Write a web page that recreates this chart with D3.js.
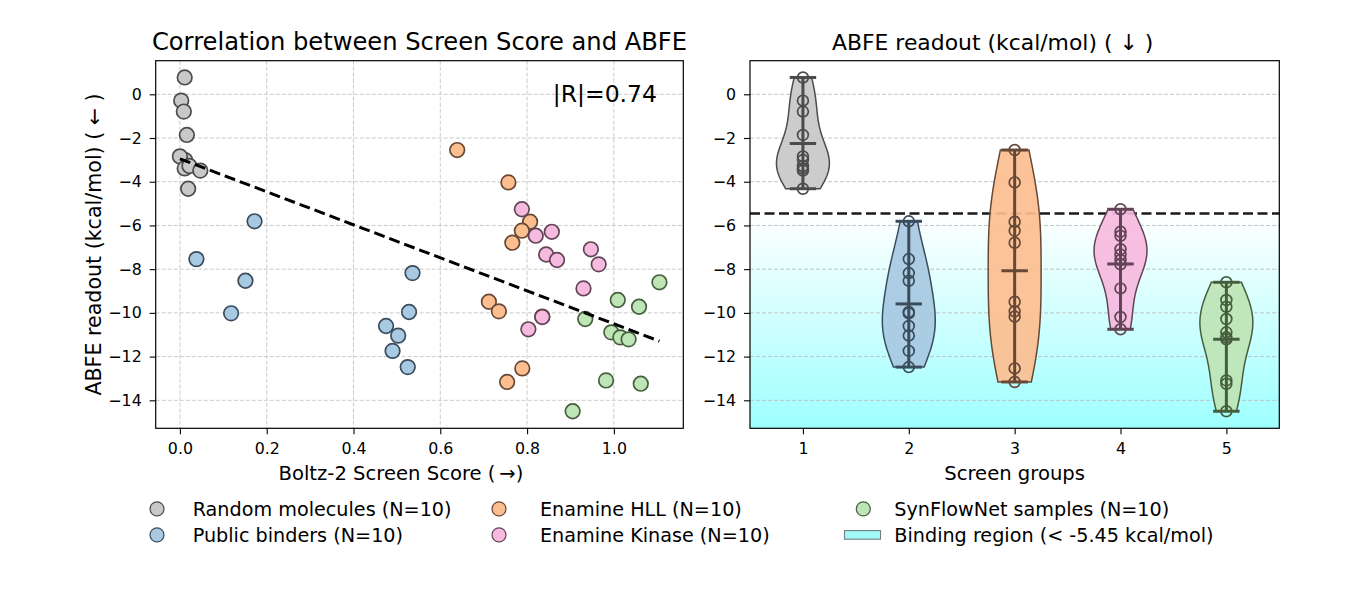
<!DOCTYPE html>
<html>
<head>
<meta charset="utf-8">
<script src="https://cdn.jsdelivr.net/npm/d3@7"></script>
<style>
  body { margin: 0; background: #fff; }
  svg { font-family: "DejaVu Sans", sans-serif; display: block; }
</style>
</head>
<body>
<svg id="chart" width="1363" height="600"></svg>
<script>
// data
var groupNames = ["Random molecules", "Public binders", "Enamine HLL", "Enamine Kinase", "SynFlowNet samples"];
var groupFill = ["#c8c8c8", "#a7c9e2", "#fdbe8f", "#f6badf", "#bee5b5"];
var groupEdge = ["#4c4c4c", "#3b4c5c", "#664836", "#614455", "#465e3e"];

var scoreRandom = [0.012, 0.011, 0.003, 0.009, 0.016, 0.000, 0.011, 0.022, 0.047, 0.019];
var abfeRandom  = [-3.01, 0.77, -0.29, -0.79, -1.86, -2.84, -3.39, -3.28, -3.49, -4.32];
var scorePublic = [0.172, 0.038, 0.151, 0.118, 0.536, 0.528, 0.475, 0.503, 0.490, 0.525];
var abfePublic  = [-5.81, -7.54, -8.53, -10.02, -8.18, -9.96, -10.60, -11.04, -11.74, -12.48];
var scoreHLL    = [0.639, 0.757, 0.807, 0.788, 0.766, 0.712, 0.735, 0.835, 0.789, 0.754];
var abfeHLL     = [-2.55, -4.03, -5.83, -6.24, -6.79, -9.49, -9.93, -10.17, -12.54, -13.16];
var scoreKinase = [0.788, 0.820, 0.857, 0.947, 0.844, 0.869, 0.965, 0.930, 0.835, 0.803];
var abfeKinase  = [-5.26, -6.47, -6.29, -7.09, -7.33, -7.58, -7.78, -8.88, -10.19, -10.75];
var scoreSyn    = [1.105, 1.009, 1.058, 0.934, 0.994, 1.015, 1.034, 0.982, 1.062, 0.905];
var abfeSyn     = [-8.60, -9.41, -9.72, -10.28, -10.89, -11.12, -11.21, -13.09, -13.24, -14.50];

// fitted trend line as drawn in the figure
var fitIntercept = -2.95, fitSlope = -7.55;

var bindingCut = -5.45;
var rLabel = "|R|=0.74";
var xTicksLeft = [0, 0.2, 0.4, 0.6, 0.8, 1.0];
var yTicks = [-14, -12, -10, -8, -6, -4, -2, 0];
var groupTicks = [1, 2, 3, 4, 5];

var scores = [scoreRandom, scorePublic, scoreHLL, scoreKinase, scoreSyn];
var abfes = [abfeRandom, abfePublic, abfeHLL, abfeKinase, abfeSyn];

var svg = d3.select("#chart");

// layout
var yTop = 60.7, yBot = 428.3;
var L = {x0: 155.7, x1: 683.3};
var R = {x0: 750, x1: 1279.3};

var y = d3.scaleLinear().domain([-15.28, 1.537]).range([yBot, yTop]);
var xL = d3.scaleLinear().domain([-0.0558, 1.160]).range([L.x0, L.x1]);
var xR = d3.scaleLinear().domain([0.5, 5.5]).range([R.x0, R.x1]);

var tickFont = 15.8;

//---------- LEFT PANEL ----------
var gl = svg.append("g");

// grid
gl.selectAll(".gx").data(xTicksLeft).enter().append("line")
  .attr("x1", function(d){ return xL(d); }).attr("x2", function(d){ return xL(d); })
  .attr("y1", yTop).attr("y2", yBot)
  .attr("stroke", "#c4c4c4").attr("stroke-width", 0.9).attr("stroke-dasharray", "4,2");
gl.selectAll(".gy").data(yTicks).enter().append("line")
  .attr("x1", L.x0).attr("x2", L.x1)
  .attr("y1", function(d){ return y(d); }).attr("y2", function(d){ return y(d); })
  .attr("stroke", "#c4c4c4").attr("stroke-width", 0.9).attr("stroke-dasharray", "4,2");

// points
groupNames.forEach(function(name, gi){
  var pts = scores[gi].map(function(s, i){ return {x: s, y: abfes[gi][i]}; });
  gl.append("g").selectAll("circle").data(pts).enter().append("circle")
    .attr("cx", function(d){ return xL(d.x); })
    .attr("cy", function(d){ return y(d.y); })
    .attr("r", 7.3)
    .attr("fill", groupFill[gi])
    .attr("stroke", groupEdge[gi])
    .attr("stroke-width", 1.7);
});

// trend line across the score range
var allScores = d3.merge(scores);
var xExt = d3.extent(allScores);
gl.append("line")
  .attr("x1", xL(xExt[0])).attr("y1", y(fitIntercept + fitSlope * xExt[0]))
  .attr("x2", xL(xExt[1])).attr("y2", y(fitIntercept + fitSlope * xExt[1]))
  .attr("stroke", "#000").attr("stroke-width", 3).attr("stroke-dasharray", "11,5");

gl.append("text").attr("x", 657).attr("y", 101.5).attr("text-anchor", "end")
  .attr("font-size", 23.5).text(rLabel);

// axes
gl.append("g").attr("transform", "translate(0," + yBot + ")")
  .call(d3.axisBottom(xL).tickValues(xTicksLeft).tickFormat(d3.format(".1f")).tickSize(6).tickPadding(8));
gl.append("g").attr("transform", "translate(" + L.x0 + ",0)")
  .call(d3.axisLeft(y).tickValues(yTicks).tickSize(6).tickPadding(8));
gl.append("rect").attr("x", L.x0).attr("y", yTop).attr("width", L.x1 - L.x0).attr("height", yBot - yTop)
  .attr("fill", "none").attr("stroke", "#000").attr("stroke-width", 1.2);

gl.append("text").attr("x", 419.5).attr("y", 49.5).attr("text-anchor", "middle")
  .attr("font-size", 24.2).text("Correlation between Screen Score and ABFE");
gl.append("text").attr("x", 278.5).attr("y", 480).attr("font-size", 19.6)
  .text("Boltz-2 Screen Score (\u2009\u2192)");
gl.append("text").attr("transform", "translate(101,244.5) rotate(-90)").attr("text-anchor", "middle")
  .attr("font-size", 20.6).text("ABFE readout (kcal/mol) ( \u2190 )");

//---------- RIGHT PANEL ----------
var gr = svg.append("g");

var defs = svg.append("defs");
var grad = defs.append("linearGradient").attr("id", "bindGrad")
  .attr("x1", 0).attr("y1", 0).attr("x2", 0).attr("y2", 1);
grad.append("stop").attr("offset", "0%").attr("stop-color", "#00ffff").attr("stop-opacity", 0);
grad.append("stop").attr("offset", "100%").attr("stop-color", "#00ffff").attr("stop-opacity", 0.38);

gr.append("rect").attr("x", R.x0).attr("y", y(bindingCut))
  .attr("width", R.x1 - R.x0).attr("height", yBot - y(bindingCut))
  .attr("fill", "url(#bindGrad)");

gr.selectAll(".gy").data(yTicks).enter().append("line")
  .attr("x1", R.x0).attr("x2", R.x1)
  .attr("y1", function(d){ return y(d); }).attr("y2", function(d){ return y(d); })
  .attr("stroke", "#bdbdbd").attr("stroke-width", 0.9).attr("stroke-dasharray", "4,2");

gr.append("line").attr("x1", R.x0).attr("x2", R.x1)
  .attr("y1", y(bindingCut)).attr("y2", y(bindingCut))
  .attr("stroke", "#1a1a1a").attr("stroke-width", 2.6).attr("stroke-dasharray", "10,4.5");

// gaussian kde, scott bandwidth
function kde(vals, pts) {
  var n = vals.length, v = d3.variance(vals);
  var bw2 = v * Math.pow(n, -2 / 5);
  var norm = n * Math.sqrt(2 * Math.PI * bw2);
  return pts.map(function(p){
    return d3.sum(vals, function(x){ return Math.exp(-(p - x) * (p - x) / (2 * bw2)); }) / norm;
  });
}

var unit = xR(1) - xR(0);
groupNames.forEach(function(name, gi){
  var vals = abfes[gi], pos = groupTicks[gi];
  var lo = d3.min(vals), hi = d3.max(vals);
  var coords = d3.range(100).map(function(i){ return lo + i * (hi - lo) / 99; });
  var dens = kde(vals, coords), dmax = d3.max(dens);
  var body = coords.map(function(c, i){ return {c: c, w: 0.25 * unit * dens[i] / dmax}; });
  var cx = xR(pos);
  var area = d3.area()
    .y(function(d){ return y(d.c); })
    .x0(function(d){ return cx - d.w; })
    .x1(function(d){ return cx + d.w; });
  var g = gr.append("g");
  g.append("path").attr("d", area(body))
    .attr("fill", groupFill[gi]).attr("fill-opacity", 0.92)
    .attr("stroke", groupEdge[gi]).attr("stroke-width", 1.5);
  var half = 0.125 * unit;
  g.append("line").attr("x1", cx).attr("x2", cx).attr("y1", y(lo)).attr("y2", y(hi))
    .attr("stroke", groupEdge[gi]).attr("stroke-width", 3);
  [lo, hi, d3.mean(vals)].forEach(function(v){
    g.append("line").attr("x1", cx - half).attr("x2", cx + half).attr("y1", y(v)).attr("y2", y(v))
      .attr("stroke", groupEdge[gi]).attr("stroke-width", 3);
  });
  g.selectAll("circle").data(vals).enter().append("circle")
    .attr("cx", cx).attr("cy", function(d){ return y(d); }).attr("r", 5.4)
    .attr("fill", "none").attr("stroke", groupEdge[gi]).attr("stroke-width", 1.7);
});

gr.append("g").attr("transform", "translate(0," + yBot + ")")
  .call(d3.axisBottom(xR).tickValues(groupTicks).tickFormat(d3.format("d")).tickSize(6).tickPadding(8));
gr.append("g").attr("transform", "translate(" + R.x0 + ",0)")
  .call(d3.axisLeft(y).tickValues(yTicks).tickSize(6).tickPadding(8));
gr.append("rect").attr("x", R.x0).attr("y", yTop).attr("width", R.x1 - R.x0).attr("height", yBot - yTop)
  .attr("fill", "none").attr("stroke", "#000").attr("stroke-width", 1.2);

gr.append("text").attr("x", 832).attr("y", 50).attr("font-size", 21.9)
  .text("ABFE readout (kcal/mol) ( \u2193 )");
gr.append("text").attr("x", (R.x0 + R.x1) / 2).attr("y", 480).attr("text-anchor", "middle")
  .attr("font-size", 19.6).text("Screen groups");

// axis styling
svg.selectAll(".domain").remove();
svg.selectAll(".tick line").attr("stroke", "#000").attr("stroke-width", 1.1);
svg.selectAll(".tick text").attr("font-size", tickFont).attr("fill", "#000")
  .attr("font-family", "DejaVu Sans");

//---------- LEGEND ----------
var legendItems = [
  {label: groupNames[0] + " (N=" + abfeRandom.length + ")", gi: 0, col: 0, row: 0},
  {label: groupNames[1] + " (N=" + abfePublic.length + ")", gi: 1, col: 0, row: 1},
  {label: groupNames[2] + " (N=" + abfeHLL.length + ")", gi: 2, col: 1, row: 0},
  {label: groupNames[3] + " (N=" + abfeKinase.length + ")", gi: 3, col: 1, row: 1},
  {label: groupNames[4] + " (N=" + abfeSyn.length + ")", gi: 4, col: 2, row: 0},
  {label: "Binding region (< " + bindingCut + " kcal/mol)", gi: -1, col: 2, row: 1}
];
var colMarker = [157, 499, 863.3], colText = [192.7, 540, 894.3], rowBase = [515.7, 541.7];
var lg = svg.append("g");
legendItems.forEach(function(it){
  var cy = rowBase[it.row] - 6.8;
  if (it.gi >= 0) {
    lg.append("circle").attr("cx", colMarker[it.col]).attr("cy", cy).attr("r", 7)
      .attr("fill", groupFill[it.gi]).attr("stroke", groupEdge[it.gi]).attr("stroke-width", 1.2);
  } else {
    lg.append("rect").attr("x", 844.5).attr("y", cy - 4.3).attr("width", 36).attr("height", 8.6)
      .attr("fill", "#a3f9f9").attr("stroke", "#6f7f80").attr("stroke-width", 1.1);
  }
  lg.append("text").attr("x", colText[it.col]).attr("y", rowBase[it.row])
    .attr("font-size", 19.2).text(it.label);
});
</script>
</body>
</html>
